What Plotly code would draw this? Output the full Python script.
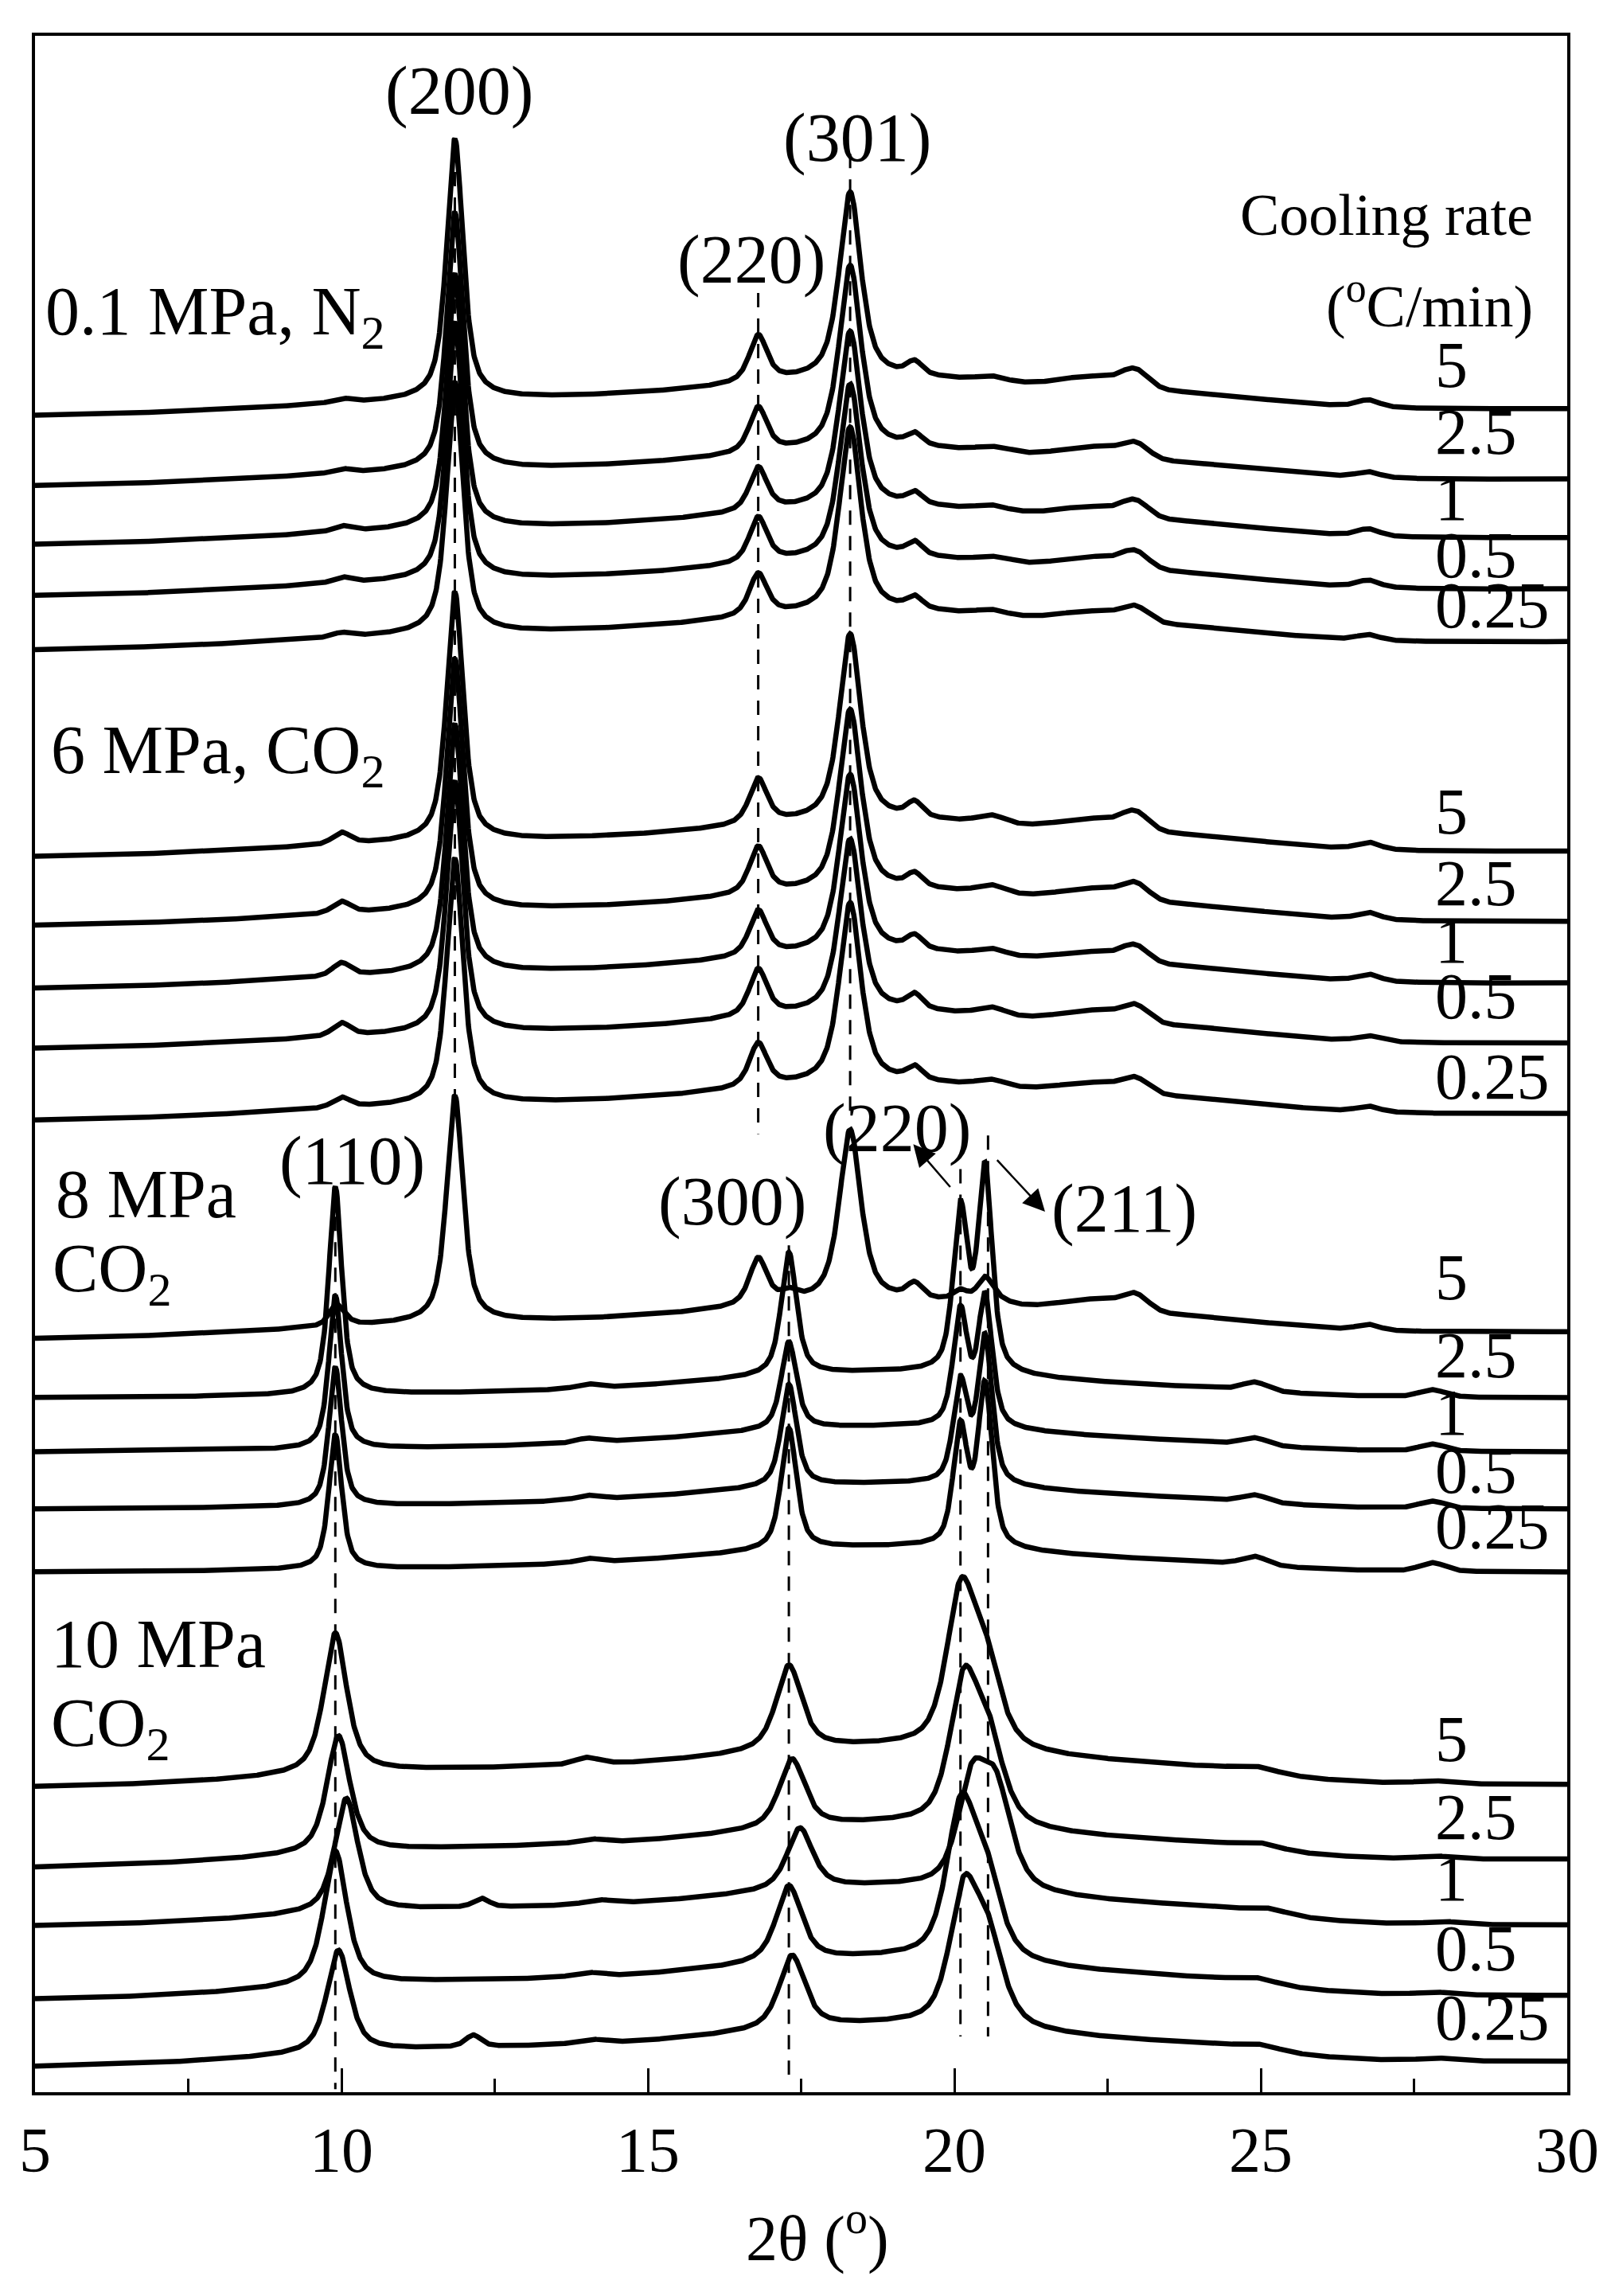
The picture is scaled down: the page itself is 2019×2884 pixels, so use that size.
import numpy as np
import plotly.graph_objects as go

# XRD patterns of samples cooled at different rates under N2 / CO2
rates = ["5", "2.5", "1", "0.5", "0.25"]

# alpha-form reflections (2theta in deg), FWHM (deg), Lorentz fraction
alpha_pos = [10.0, 11.85, 16.8, 18.3, 19.35, 20.6, 22.3, 22.95, 26.75]
alpha_fwhm = [0.35, 0.32, 0.35, 0.42, 0.30, 0.5, 1.2, 0.5, 0.45]
alpha_eta = [0.5, 0.7, 0.7, 0.7, 0.5, 0.0, 0.0, 0.0, 0.5]

# gamma-form reflections: (110), small, small, (300), (220), (211), small, small
gamma_pos = [9.9, 12.1, 14.0, 17.3, 20.1, 20.5, 24.9, 27.8]
gamma_fwhm_8 = [0.25, 0.3, 0.4, 0.3, 0.28, 0.28, 0.5, 0.5]
gamma_fwhm_10 = [0.45, 0.3, 0.5, 0.5, 0.55, 0.6, 0.8, 0.6]
gamma_eta = [0.7, 0.5, 0.5, 0.7, 0.6, 0.6, 0.3, 0.3]

# amorphous halo
halo_pos = [11.5, 19.0, 24.0]
halo_fwhm = [6.5, 7.5, 3.0]

# peak heights (a.u.), one row per cooling rate
n2_alpha = [
    [3, 178, 32, 127, 9, 3, 8, 11, 5],
    [3, 176, 31, 125, 8, 3, 8, 9, 4],
    [4, 174, 30, 120, 8, 3, 7, 10, 5],
    [4, 176, 31, 119, 9, 3, 8, 10, 5],
    [3, 172, 29, 126, 8, 3, 7, 9, 4],
]
co2_6_alpha = [
    [8, 170, 31, 127, 10, 5, 8, 11, 5],
    [8, 172, 32, 123, 9, 5, 8, 10, 5],
    [9, 170, 31, 121, 9, 4, 7, 10, 5],
    [9, 172, 32, 118, 10, 5, 8, 10, 4],
    [7, 168, 30, 123, 9, 4, 7, 9, 4],
]
co2_8_alpha = [
    [4, 155, 32, 117, 10, 4, 8, 10, 4],
    [0, 0, 0, 0, 0, 0, 0, 0, 0],
    [0, 0, 0, 0, 0, 0, 0, 0, 0],
    [0, 0, 0, 0, 0, 0, 0, 0, 0],
    [0, 0, 0, 0, 0, 0, 0, 0, 0],
]
co2_8_gamma = [
    [12, 0, 0, 6, 7, 14, 0, 0],
    [142, 0, 3, 84, 109, 138, 6, 5],
    [105, 0, 3, 60, 78, 88, 5, 5],
    [95, 0, 3, 70, 68, 100, 5, 5],
    [92, 0, 3, 83, 80, 110, 6, 6],
]
co2_10_gamma = [
    [96, 0, 5, 58, 98, 55, 4, 2],
    [80, 0, 3, 47, 90, 55, 4, 2],
    [78, 6, 3, 42, 65, 65, 4, 2],
    [92, 0, 3, 52, 95, 55, 4, 2],
    [70, 8, 3, 50, 85, 55, 4, 2],
]
co2_10_shift = [0.0, 0.05, 0.18, 0.0, 0.05]

halo_alpha = [8, 23, 5]
halo_gamma_8 = [2, 17, 2]
halo_gamma_10 = [10, 26, 5]

# stacked baseline level at 5 deg and at 30 deg
n2_left = [1144, 1096, 1056, 1021, 984]
n2_right = [1149, 1101, 1061, 1026, 990]
co2_6_left = [843, 796, 753, 712, 663]
co2_6_right = [847, 799, 757, 716, 668]
co2_8_left = [514, 474, 437, 398, 355]
co2_8_right = [519, 474, 437, 398, 355]
co2_10_left = [208, 153, 113, 63, 17]
co2_10_right = [210, 159, 114, 66, 21]

two_theta = np.linspace(5, 30, 2501)


def profile(pos, fwhm, eta, heights, shift=0.0):
    y = np.zeros_like(two_theta)
    for p, w, e, h in zip(pos, fwhm, eta, heights):
        d = (two_theta - p - shift) / w
        y += h * (e / (1 + 4 * d * d) + (1 - e) * np.exp(-4 * np.log(2) * d * d))
    return y


def baseline(left, right):
    return left + (right - left) * (two_theta - 5) / 25


curves = []
for i in range(5):
    y = baseline(n2_left[i], n2_right[i])
    y += profile(alpha_pos, alpha_fwhm, alpha_eta, n2_alpha[i])
    y += profile(halo_pos, halo_fwhm, [0, 0, 0], halo_alpha)
    curves.append(y)
for i in range(5):
    y = baseline(co2_6_left[i], co2_6_right[i])
    y += profile(alpha_pos, alpha_fwhm, alpha_eta, co2_6_alpha[i])
    y += profile(halo_pos, halo_fwhm, [0, 0, 0], halo_alpha)
    curves.append(y)
for i in range(5):
    y = baseline(co2_8_left[i], co2_8_right[i])
    y += profile(alpha_pos, alpha_fwhm, alpha_eta, co2_8_alpha[i])
    y += profile(gamma_pos, gamma_fwhm_8, gamma_eta, co2_8_gamma[i])
    y += profile(halo_pos, halo_fwhm, [0, 0, 0], halo_alpha if i == 0 else halo_gamma_8)
    curves.append(y)
for i in range(5):
    y = baseline(co2_10_left[i], co2_10_right[i])
    y += profile(gamma_pos, gamma_fwhm_10, gamma_eta, co2_10_gamma[i], co2_10_shift[i])
    y += profile(halo_pos, halo_fwhm, [0, 0, 0], halo_gamma_10)
    curves.append(y)

fig = go.Figure()
for y in curves:
    fig.add_trace(go.Scatter(x=two_theta, y=y, mode="lines",
                             line=dict(color="black", width=6.5),
                             showlegend=False, hoverinfo="skip"))

# dashed guides at the reflections
guides = [(11.85, 1328, 679), (16.8, 1228, 654), (18.3, 1323, 664),
          (9.9, 615, 2), (17.3, 578, 12), (20.1, 630, 38), (20.55, 653, 38)]
for gx, g0, g1 in guides:
    fig.add_shape(type="line", xref="x", yref="y", x0=gx, x1=gx, y0=g0, y1=g1,
                  line=dict(color="black", width=3, dash="18px,14px"))

FONT = "Liberation Serif, Times New Roman, serif"


def label(text, x, y, size=86, xanchor="center"):
    fig.add_annotation(x=x, y=y, text=text, showarrow=False, xanchor=xanchor,
                       yanchor="middle", font=dict(family=FONT, size=size, color="black"))


label("(200)", 11.92, 1366)
label("(301)", 18.42, 1334)
label("(220)", 16.69, 1251)
label("Cooling rate", 29.47, 1281, size=74, xanchor="right")
label("(<sup>o</sup>C/min)", 29.47, 1222, size=74, xanchor="right")
label("0.1 MPa, N<sub>2</sub>", 5.14, 1212, xanchor="left")
label("6 MPa, CO<sub>2</sub>", 5.23, 913, xanchor="left")
label("8 MPa", 5.31, 613, xanchor="left")
label("CO<sub>2</sub>", 5.26, 559, xanchor="left")
label("10 MPa", 5.23, 306, xanchor="left")
label("CO<sub>2</sub>", 5.23, 249, xanchor="left")
label("(110)", 10.18, 636)
label("(300)", 16.38, 608)
label("(220)", 19.07, 658)
label("(211)", 22.77, 603)

rate_y = [
    [1179, 1133, 1088, 1049, 1015],
    [874, 825, 786, 748, 693],
    [556, 503, 464, 424, 386],
    [241, 188, 146, 98, 51],
]
for row in rate_y:
    for r, ry in zip(rates, row):
        label(r, 27.82, ry, size=82, xanchor="left")

# arrows to the (220) and (211) gamma reflections
fig.add_annotation(x=19.33, y=647, ax=19.95, ay=617, xref="x", yref="y",
                   axref="x", ayref="y", text="", showarrow=True,
                   arrowhead=2, arrowsize=2.2, arrowwidth=2.5, arrowcolor="black")
fig.add_annotation(x=21.48, y=601, ax=20.68, ay=637, xref="x", yref="y",
                   axref="x", ayref="y", text="", showarrow=True,
                   arrowhead=2, arrowsize=2.2, arrowwidth=2.5, arrowcolor="black")

fig.add_annotation(x=0.5106, y=-0.069, xref="paper", yref="paper",
                   text="2θ (<sup>o</sup>)", showarrow=False, yanchor="middle",
                   font=dict(family=FONT, size=80, color="black"))

fig.update_layout(
    width=2019, height=2884,
    margin=dict(l=36, r=58, t=37, b=264, pad=0),
    paper_bgcolor="white", plot_bgcolor="white",
    xaxis=dict(range=[5, 30], tickvals=[5, 10, 15, 20, 25, 30],
               ticks="inside", ticklen=30, tickwidth=3, tickcolor="black",
               minor=dict(ticks="inside", ticklen=17, tickwidth=3,
                          tickcolor="black", dtick=2.5, tick0=5),
               showline=True, linewidth=4, linecolor="black", mirror=True,
               showgrid=False, zeroline=False,
               tickfont=dict(family=FONT, size=80, color="black")),
    yaxis=dict(range=[0, 1403.5], showticklabels=False, ticks="",
               showline=True, linewidth=4, linecolor="black", mirror=True,
               showgrid=False, zeroline=False),
)

fig.write_html("out.html")
